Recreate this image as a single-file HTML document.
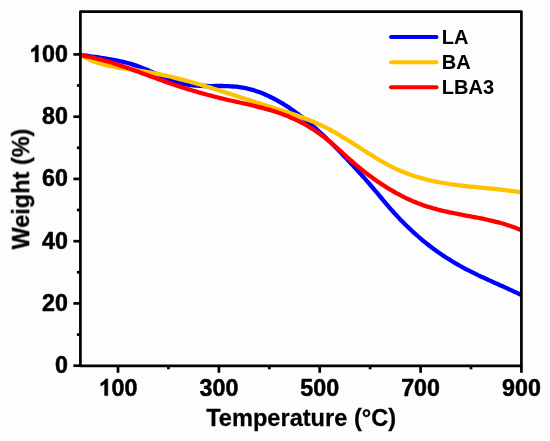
<!DOCTYPE html>
<html><head><meta charset="utf-8"><style>
html,body{margin:0;padding:0;background:#fdfdfd;}
svg{display:block;filter:blur(0.35px);}
text{font-family:"Liberation Sans",sans-serif;font-weight:bold;fill:#000;stroke:#000;stroke-linejoin:round;}
</style></head><body>
<svg width="550" height="441" viewBox="0 0 550 441">
<rect width="550" height="441" fill="#fdfdfd"/>
<g fill="none" stroke-width="4.3" stroke-linejoin="round" stroke-linecap="butt">
<path d="M80.5 54.8 C81.0 54.9 82.5 55.2 83.5 55.3 C84.5 55.5 85.5 55.6 86.5 55.7 C87.5 55.9 88.5 56.0 89.5 56.2 C90.5 56.3 91.5 56.4 92.5 56.6 C93.5 56.7 94.5 56.9 95.5 57.0 C96.5 57.1 97.5 57.3 98.5 57.4 C99.5 57.6 100.5 57.7 101.5 57.9 C102.5 58.0 103.5 58.2 104.5 58.3 C105.5 58.5 106.5 58.6 107.5 58.8 C108.5 59.0 109.5 59.1 110.5 59.3 C111.5 59.5 112.5 59.7 113.5 59.9 C114.5 60.0 115.5 60.2 116.5 60.4 C117.5 60.6 118.5 60.8 119.5 61.1 C120.5 61.3 121.5 61.5 122.5 61.7 C123.5 62.0 124.5 62.2 125.5 62.5 C126.5 62.7 127.5 63.0 128.5 63.3 C129.5 63.6 130.5 63.8 131.5 64.1 C132.5 64.4 133.5 64.8 134.5 65.1 C135.5 65.4 136.5 65.7 137.5 66.1 C138.5 66.4 139.5 66.8 140.5 67.2 C141.5 67.6 142.5 68.0 143.5 68.4 C144.5 68.8 145.5 69.2 146.5 69.6 C147.5 70.0 148.5 70.4 149.5 70.9 C150.5 71.3 151.5 71.7 152.5 72.2 C153.5 72.6 154.5 73.1 155.5 73.5 C156.5 73.9 157.5 74.4 158.5 74.8 C159.5 75.2 160.5 75.7 161.5 76.1 C162.5 76.5 163.5 77.0 164.5 77.4 C165.5 77.8 166.5 78.2 167.5 78.6 C168.5 79.0 169.5 79.4 170.5 79.8 C171.5 80.2 172.5 80.5 173.5 80.9 C174.5 81.2 175.5 81.6 176.5 81.9 C177.5 82.2 178.5 82.5 179.5 82.8 C180.5 83.1 181.5 83.3 182.5 83.6 C183.5 83.8 184.5 84.0 185.5 84.2 C186.5 84.4 187.5 84.6 188.5 84.8 C189.5 84.9 190.5 85.1 191.5 85.2 C192.5 85.3 193.5 85.4 194.5 85.5 C195.5 85.6 196.5 85.7 197.5 85.7 C198.5 85.8 199.5 85.8 200.5 85.9 C201.5 85.9 202.5 86.0 203.5 86.0 C204.5 86.0 205.5 86.0 206.5 86.0 C207.5 86.1 208.5 86.1 209.5 86.1 C210.5 86.1 211.5 86.1 212.5 86.1 C213.5 86.0 214.5 86.0 215.5 86.0 C216.5 86.0 217.5 86.0 218.5 86.0 C219.5 86.0 220.5 86.0 221.5 86.0 C222.5 86.0 223.5 86.0 224.5 86.1 C225.5 86.1 226.5 86.1 227.5 86.1 C228.5 86.2 229.5 86.2 230.5 86.3 C231.5 86.3 232.5 86.4 233.5 86.5 C234.5 86.5 235.5 86.6 236.5 86.7 C237.5 86.9 238.5 87.0 239.5 87.1 C240.5 87.3 241.5 87.4 242.5 87.6 C243.5 87.8 244.5 88.0 245.5 88.2 C246.5 88.4 247.5 88.6 248.5 88.9 C249.5 89.1 250.5 89.4 251.5 89.7 C252.5 89.9 253.5 90.2 254.5 90.5 C255.5 90.9 256.5 91.2 257.5 91.5 C258.5 91.9 259.5 92.2 260.5 92.6 C261.5 93.0 262.5 93.4 263.5 93.8 C264.5 94.2 265.5 94.7 266.5 95.1 C267.5 95.6 268.5 96.0 269.5 96.5 C270.5 97.0 271.5 97.5 272.5 98.0 C273.5 98.5 274.5 99.0 275.5 99.5 C276.5 100.1 277.5 100.6 278.5 101.2 C279.5 101.8 280.5 102.3 281.5 102.9 C282.5 103.5 283.5 104.1 284.5 104.8 C285.5 105.4 286.5 106.0 287.5 106.7 C288.5 107.3 289.5 108.0 290.5 108.7 C291.5 109.4 292.5 110.1 293.5 110.8 C294.5 111.5 295.5 112.2 296.5 112.9 C297.5 113.7 298.5 114.4 299.5 115.2 C300.5 115.9 301.5 116.7 302.5 117.5 C303.5 118.3 304.5 119.1 305.5 119.9 C306.5 120.7 307.5 121.5 308.5 122.3 C309.5 123.2 310.5 124.0 311.5 124.9 C312.5 125.7 313.5 126.6 314.5 127.5 C315.5 128.3 316.5 129.2 317.5 130.1 C318.5 131.0 319.5 131.9 320.5 132.8 C321.5 133.8 322.5 134.7 323.5 135.6 C324.5 136.6 325.5 137.5 326.5 138.4 C327.5 139.4 328.5 140.4 329.5 141.3 C330.5 142.3 331.5 143.3 332.5 144.3 C333.5 145.3 334.5 146.3 335.5 147.3 C336.5 148.3 337.5 149.3 338.5 150.3 C339.5 151.3 340.5 152.3 341.5 153.4 C342.5 154.4 343.5 155.5 344.5 156.5 C345.5 157.6 346.5 158.6 347.5 159.7 C348.5 160.7 349.5 161.8 350.5 162.9 C351.5 163.9 352.5 165.0 353.5 166.1 C354.5 167.2 355.5 168.3 356.5 169.4 C357.5 170.5 358.5 171.6 359.5 172.7 C360.5 173.8 361.5 174.9 362.5 176.0 C363.5 177.1 364.5 178.3 365.5 179.4 C366.5 180.5 367.5 181.7 368.5 182.8 C369.5 183.9 370.5 185.1 371.5 186.3 C372.5 187.4 373.5 188.6 374.5 189.8 C375.5 191.0 376.5 192.2 377.5 193.4 C378.5 194.6 379.5 195.8 380.5 197.0 C381.5 198.2 382.5 199.4 383.5 200.6 C384.5 201.8 385.5 203.0 386.5 204.1 C387.5 205.3 388.5 206.5 389.5 207.6 C390.5 208.8 391.5 209.9 392.5 211.0 C393.5 212.2 394.5 213.3 395.5 214.3 C396.5 215.4 397.5 216.5 398.5 217.6 C399.5 218.6 400.5 219.7 401.5 220.7 C402.5 221.7 403.5 222.7 404.5 223.7 C405.5 224.7 406.5 225.7 407.5 226.7 C408.5 227.6 409.5 228.6 410.5 229.5 C411.5 230.5 412.5 231.4 413.5 232.3 C414.5 233.2 415.5 234.1 416.5 235.0 C417.5 235.9 418.5 236.8 419.5 237.6 C420.5 238.5 421.5 239.3 422.5 240.2 C423.5 241.0 424.5 241.8 425.5 242.6 C426.5 243.4 427.5 244.2 428.5 245.0 C429.5 245.8 430.5 246.6 431.5 247.3 C432.5 248.1 433.5 248.8 434.5 249.6 C435.5 250.3 436.5 251.0 437.5 251.7 C438.5 252.4 439.5 253.1 440.5 253.8 C441.5 254.5 442.5 255.2 443.5 255.8 C444.5 256.5 445.5 257.2 446.5 257.8 C447.5 258.5 448.5 259.1 449.5 259.7 C450.5 260.3 451.5 260.9 452.5 261.5 C453.5 262.1 454.5 262.7 455.5 263.3 C456.5 263.9 457.5 264.5 458.5 265.0 C459.5 265.6 460.5 266.2 461.5 266.7 C462.5 267.3 463.5 267.8 464.5 268.3 C465.5 268.9 466.5 269.4 467.5 269.9 C468.5 270.4 469.5 270.9 470.5 271.4 C471.5 271.9 472.5 272.4 473.5 272.9 C474.5 273.4 475.5 273.9 476.5 274.4 C477.5 274.9 478.5 275.3 479.5 275.8 C480.5 276.3 481.5 276.8 482.5 277.2 C483.5 277.7 484.5 278.2 485.5 278.6 C486.5 279.1 487.5 279.5 488.5 280.0 C489.5 280.4 490.5 280.9 491.5 281.3 C492.5 281.8 493.5 282.2 494.5 282.7 C495.5 283.1 496.5 283.6 497.5 284.0 C498.5 284.5 499.5 284.9 500.5 285.4 C501.5 285.8 502.5 286.3 503.5 286.7 C504.5 287.2 505.5 287.6 506.5 288.1 C507.5 288.5 508.5 289.0 509.5 289.5 C510.5 289.9 511.5 290.4 512.5 290.8 C513.5 291.3 514.5 291.8 515.5 292.2 C516.5 292.7 517.5 293.2 518.5 293.7 C519.5 294.2 521.0 294.9 521.5 295.1" stroke="#0000ff"/>
<path d="M80.5 54.8 C81.0 55.1 82.5 56.0 83.5 56.6 C84.5 57.1 85.5 57.7 86.5 58.2 C87.5 58.7 88.5 59.1 89.5 59.6 C90.5 60.0 91.5 60.5 92.5 60.9 C93.5 61.3 94.5 61.7 95.5 62.0 C96.5 62.4 97.5 62.7 98.5 63.0 C99.5 63.4 100.5 63.7 101.5 64.0 C102.5 64.2 103.5 64.5 104.5 64.8 C105.5 65.0 106.5 65.3 107.5 65.5 C108.5 65.7 109.5 65.9 110.5 66.1 C111.5 66.3 112.5 66.5 113.5 66.7 C114.5 66.9 115.5 67.1 116.5 67.3 C117.5 67.4 118.5 67.6 119.5 67.8 C120.5 67.9 121.5 68.1 122.5 68.2 C123.5 68.4 124.5 68.5 125.5 68.7 C126.5 68.8 127.5 69.0 128.5 69.2 C129.5 69.3 130.5 69.5 131.5 69.6 C132.5 69.8 133.5 69.9 134.5 70.1 C135.5 70.2 136.5 70.4 137.5 70.5 C138.5 70.7 139.5 70.8 140.5 71.0 C141.5 71.1 142.5 71.3 143.5 71.5 C144.5 71.6 145.5 71.8 146.5 71.9 C147.5 72.1 148.5 72.3 149.5 72.5 C150.5 72.6 151.5 72.8 152.5 73.0 C153.5 73.2 154.5 73.4 155.5 73.5 C156.5 73.7 157.5 73.9 158.5 74.1 C159.5 74.3 160.5 74.5 161.5 74.7 C162.5 74.9 163.5 75.2 164.5 75.4 C165.5 75.6 166.5 75.8 167.5 76.0 C168.5 76.3 169.5 76.5 170.5 76.7 C171.5 77.0 172.5 77.2 173.5 77.4 C174.5 77.7 175.5 77.9 176.5 78.2 C177.5 78.4 178.5 78.7 179.5 78.9 C180.5 79.2 181.5 79.4 182.5 79.7 C183.5 80.0 184.5 80.2 185.5 80.5 C186.5 80.8 187.5 81.0 188.5 81.3 C189.5 81.6 190.5 81.9 191.5 82.1 C192.5 82.4 193.5 82.7 194.5 83.0 C195.5 83.3 196.5 83.6 197.5 83.8 C198.5 84.1 199.5 84.4 200.5 84.7 C201.5 85.0 202.5 85.3 203.5 85.6 C204.5 85.9 205.5 86.2 206.5 86.5 C207.5 86.8 208.5 87.1 209.5 87.4 C210.5 87.7 211.5 88.0 212.5 88.4 C213.5 88.7 214.5 89.0 215.5 89.3 C216.5 89.6 217.5 89.9 218.5 90.2 C219.5 90.5 220.5 90.9 221.5 91.2 C222.5 91.5 223.5 91.8 224.5 92.1 C225.5 92.5 226.5 92.8 227.5 93.1 C228.5 93.4 229.5 93.7 230.5 94.1 C231.5 94.4 232.5 94.7 233.5 95.0 C234.5 95.4 235.5 95.7 236.5 96.0 C237.5 96.3 238.5 96.7 239.5 97.0 C240.5 97.3 241.5 97.6 242.5 98.0 C243.5 98.3 244.5 98.6 245.5 98.9 C246.5 99.3 247.5 99.6 248.5 99.9 C249.5 100.2 250.5 100.6 251.5 100.9 C252.5 101.2 253.5 101.5 254.5 101.8 C255.5 102.2 256.5 102.5 257.5 102.8 C258.5 103.1 259.5 103.5 260.5 103.8 C261.5 104.1 262.5 104.4 263.5 104.7 C264.5 105.0 265.5 105.4 266.5 105.7 C267.5 106.0 268.5 106.3 269.5 106.6 C270.5 106.9 271.5 107.2 272.5 107.6 C273.5 107.9 274.5 108.2 275.5 108.5 C276.5 108.8 277.5 109.1 278.5 109.4 C279.5 109.7 280.5 110.1 281.5 110.4 C282.5 110.7 283.5 111.0 284.5 111.3 C285.5 111.7 286.5 112.0 287.5 112.3 C288.5 112.6 289.5 113.0 290.5 113.3 C291.5 113.6 292.5 114.0 293.5 114.3 C294.5 114.7 295.5 115.0 296.5 115.4 C297.5 115.7 298.5 116.1 299.5 116.4 C300.5 116.8 301.5 117.1 302.5 117.5 C303.5 117.9 304.5 118.3 305.5 118.7 C306.5 119.0 307.5 119.4 308.5 119.8 C309.5 120.2 310.5 120.6 311.5 121.0 C312.5 121.5 313.5 121.9 314.5 122.3 C315.5 122.7 316.5 123.2 317.5 123.6 C318.5 124.1 319.5 124.5 320.5 125.0 C321.5 125.5 322.5 125.9 323.5 126.4 C324.5 126.9 325.5 127.4 326.5 127.9 C327.5 128.4 328.5 128.9 329.5 129.4 C330.5 130.0 331.5 130.5 332.5 131.1 C333.5 131.6 334.5 132.2 335.5 132.7 C336.5 133.3 337.5 133.9 338.5 134.5 C339.5 135.1 340.5 135.7 341.5 136.3 C342.5 136.9 343.5 137.5 344.5 138.1 C345.5 138.7 346.5 139.3 347.5 139.9 C348.5 140.6 349.5 141.2 350.5 141.8 C351.5 142.5 352.5 143.1 353.5 143.7 C354.5 144.4 355.5 145.0 356.5 145.7 C357.5 146.3 358.5 146.9 359.5 147.6 C360.5 148.2 361.5 148.9 362.5 149.5 C363.5 150.1 364.5 150.8 365.5 151.4 C366.5 152.1 367.5 152.7 368.5 153.3 C369.5 154.0 370.5 154.6 371.5 155.2 C372.5 155.8 373.5 156.4 374.5 157.1 C375.5 157.7 376.5 158.3 377.5 158.9 C378.5 159.5 379.5 160.1 380.5 160.6 C381.5 161.2 382.5 161.8 383.5 162.4 C384.5 162.9 385.5 163.5 386.5 164.0 C387.5 164.6 388.5 165.1 389.5 165.6 C390.5 166.1 391.5 166.6 392.5 167.1 C393.5 167.6 394.5 168.1 395.5 168.6 C396.5 169.1 397.5 169.5 398.5 170.0 C399.5 170.4 400.5 170.8 401.5 171.2 C402.5 171.7 403.5 172.1 404.5 172.5 C405.5 172.9 406.5 173.3 407.5 173.6 C408.5 174.0 409.5 174.4 410.5 174.7 C411.5 175.1 412.5 175.4 413.5 175.7 C414.5 176.1 415.5 176.4 416.5 176.7 C417.5 177.0 418.5 177.3 419.5 177.6 C420.5 177.9 421.5 178.2 422.5 178.4 C423.5 178.7 424.5 179.0 425.5 179.2 C426.5 179.5 427.5 179.7 428.5 180.0 C429.5 180.2 430.5 180.5 431.5 180.7 C432.5 180.9 433.5 181.1 434.5 181.3 C435.5 181.5 436.5 181.7 437.5 181.9 C438.5 182.1 439.5 182.3 440.5 182.5 C441.5 182.7 442.5 182.9 443.5 183.0 C444.5 183.2 445.5 183.4 446.5 183.5 C447.5 183.7 448.5 183.9 449.5 184.0 C450.5 184.2 451.5 184.3 452.5 184.4 C453.5 184.6 454.5 184.7 455.5 184.8 C456.5 185.0 457.5 185.1 458.5 185.2 C459.5 185.4 460.5 185.5 461.5 185.6 C462.5 185.7 463.5 185.8 464.5 185.9 C465.5 186.1 466.5 186.2 467.5 186.3 C468.5 186.4 469.5 186.5 470.5 186.6 C471.5 186.7 472.5 186.8 473.5 186.9 C474.5 187.0 475.5 187.1 476.5 187.2 C477.5 187.3 478.5 187.4 479.5 187.5 C480.5 187.6 481.5 187.7 482.5 187.8 C483.5 187.9 484.5 187.9 485.5 188.0 C486.5 188.1 487.5 188.2 488.5 188.3 C489.5 188.4 490.5 188.5 491.5 188.6 C492.5 188.7 493.5 188.8 494.5 188.9 C495.5 189.0 496.5 189.1 497.5 189.2 C498.5 189.3 499.5 189.5 500.5 189.6 C501.5 189.7 502.5 189.8 503.5 189.9 C504.5 190.0 505.5 190.1 506.5 190.3 C507.5 190.4 508.5 190.5 509.5 190.6 C510.5 190.8 511.5 190.9 512.5 191.1 C513.5 191.2 514.5 191.3 515.5 191.5 C516.5 191.6 517.5 191.8 518.5 191.9 C519.5 192.1 521.0 192.4 521.5 192.4" stroke="#ffc200"/>
<path d="M80.5 55.3 C81.0 55.4 82.5 55.6 83.5 55.8 C84.5 56.0 85.5 56.1 86.5 56.3 C87.5 56.5 88.5 56.7 89.5 56.9 C90.5 57.1 91.5 57.3 92.5 57.6 C93.5 57.8 94.5 58.0 95.5 58.3 C96.5 58.5 97.5 58.7 98.5 59.0 C99.5 59.3 100.5 59.5 101.5 59.8 C102.5 60.0 103.5 60.3 104.5 60.6 C105.5 60.9 106.5 61.2 107.5 61.5 C108.5 61.7 109.5 62.0 110.5 62.3 C111.5 62.6 112.5 62.9 113.5 63.3 C114.5 63.6 115.5 63.9 116.5 64.2 C117.5 64.5 118.5 64.9 119.5 65.2 C120.5 65.5 121.5 65.9 122.5 66.2 C123.5 66.5 124.5 66.9 125.5 67.2 C126.5 67.6 127.5 67.9 128.5 68.3 C129.5 68.6 130.5 69.0 131.5 69.3 C132.5 69.7 133.5 70.0 134.5 70.4 C135.5 70.7 136.5 71.1 137.5 71.5 C138.5 71.8 139.5 72.2 140.5 72.6 C141.5 72.9 142.5 73.3 143.5 73.7 C144.5 74.0 145.5 74.4 146.5 74.8 C147.5 75.1 148.5 75.5 149.5 75.9 C150.5 76.3 151.5 76.6 152.5 77.0 C153.5 77.4 154.5 77.7 155.5 78.1 C156.5 78.5 157.5 78.8 158.5 79.2 C159.5 79.6 160.5 79.9 161.5 80.3 C162.5 80.6 163.5 81.0 164.5 81.4 C165.5 81.7 166.5 82.1 167.5 82.4 C168.5 82.8 169.5 83.1 170.5 83.5 C171.5 83.8 172.5 84.2 173.5 84.5 C174.5 84.9 175.5 85.2 176.5 85.5 C177.5 85.9 178.5 86.2 179.5 86.5 C180.5 86.8 181.5 87.2 182.5 87.5 C183.5 87.8 184.5 88.1 185.5 88.4 C186.5 88.7 187.5 89.0 188.5 89.4 C189.5 89.7 190.5 90.0 191.5 90.3 C192.5 90.6 193.5 90.9 194.5 91.1 C195.5 91.4 196.5 91.7 197.5 92.0 C198.5 92.3 199.5 92.6 200.5 92.9 C201.5 93.1 202.5 93.4 203.5 93.7 C204.5 94.0 205.5 94.2 206.5 94.5 C207.5 94.8 208.5 95.1 209.5 95.3 C210.5 95.6 211.5 95.8 212.5 96.1 C213.5 96.4 214.5 96.6 215.5 96.9 C216.5 97.1 217.5 97.4 218.5 97.6 C219.5 97.9 220.5 98.1 221.5 98.4 C222.5 98.6 223.5 98.8 224.5 99.1 C225.5 99.3 226.5 99.5 227.5 99.8 C228.5 100.0 229.5 100.2 230.5 100.5 C231.5 100.7 232.5 100.9 233.5 101.2 C234.5 101.4 235.5 101.6 236.5 101.8 C237.5 102.1 238.5 102.3 239.5 102.5 C240.5 102.7 241.5 102.9 242.5 103.2 C243.5 103.4 244.5 103.6 245.5 103.8 C246.5 104.1 247.5 104.3 248.5 104.5 C249.5 104.8 250.5 105.0 251.5 105.2 C252.5 105.5 253.5 105.7 254.5 105.9 C255.5 106.2 256.5 106.4 257.5 106.7 C258.5 106.9 259.5 107.2 260.5 107.4 C261.5 107.7 262.5 108.0 263.5 108.2 C264.5 108.5 265.5 108.8 266.5 109.1 C267.5 109.3 268.5 109.6 269.5 109.9 C270.5 110.2 271.5 110.5 272.5 110.8 C273.5 111.1 274.5 111.5 275.5 111.8 C276.5 112.1 277.5 112.4 278.5 112.8 C279.5 113.1 280.5 113.5 281.5 113.8 C282.5 114.2 283.5 114.6 284.5 114.9 C285.5 115.3 286.5 115.7 287.5 116.1 C288.5 116.5 289.5 116.9 290.5 117.4 C291.5 117.8 292.5 118.2 293.5 118.7 C294.5 119.1 295.5 119.6 296.5 120.1 C297.5 120.5 298.5 121.0 299.5 121.5 C300.5 122.0 301.5 122.6 302.5 123.1 C303.5 123.6 304.5 124.2 305.5 124.7 C306.5 125.3 307.5 125.9 308.5 126.5 C309.5 127.1 310.5 127.7 311.5 128.3 C312.5 128.9 313.5 129.6 314.5 130.2 C315.5 130.9 316.5 131.5 317.5 132.2 C318.5 132.9 319.5 133.6 320.5 134.4 C321.5 135.1 322.5 135.8 323.5 136.6 C324.5 137.4 325.5 138.1 326.5 138.9 C327.5 139.7 328.5 140.5 329.5 141.4 C330.5 142.2 331.5 143.1 332.5 143.9 C333.5 144.8 334.5 145.7 335.5 146.6 C336.5 147.5 337.5 148.4 338.5 149.3 C339.5 150.2 340.5 151.1 341.5 152.0 C342.5 153.0 343.5 153.9 344.5 154.8 C345.5 155.7 346.5 156.6 347.5 157.5 C348.5 158.4 349.5 159.3 350.5 160.2 C351.5 161.1 352.5 161.9 353.5 162.8 C354.5 163.6 355.5 164.5 356.5 165.3 C357.5 166.2 358.5 167.0 359.5 167.8 C360.5 168.6 361.5 169.4 362.5 170.2 C363.5 171.0 364.5 171.8 365.5 172.6 C366.5 173.4 367.5 174.1 368.5 174.9 C369.5 175.6 370.5 176.4 371.5 177.1 C372.5 177.8 373.5 178.6 374.5 179.3 C375.5 180.0 376.5 180.7 377.5 181.4 C378.5 182.1 379.5 182.7 380.5 183.4 C381.5 184.1 382.5 184.7 383.5 185.4 C384.5 186.0 385.5 186.7 386.5 187.3 C387.5 187.9 388.5 188.5 389.5 189.1 C390.5 189.7 391.5 190.3 392.5 190.9 C393.5 191.5 394.5 192.0 395.5 192.6 C396.5 193.2 397.5 193.7 398.5 194.2 C399.5 194.8 400.5 195.3 401.5 195.8 C402.5 196.3 403.5 196.8 404.5 197.3 C405.5 197.8 406.5 198.3 407.5 198.8 C408.5 199.2 409.5 199.7 410.5 200.1 C411.5 200.6 412.5 201.0 413.5 201.4 C414.5 201.8 415.5 202.3 416.5 202.7 C417.5 203.1 418.5 203.4 419.5 203.8 C420.5 204.2 421.5 204.6 422.5 204.9 C423.5 205.3 424.5 205.6 425.5 205.9 C426.5 206.3 427.5 206.6 428.5 206.9 C429.5 207.2 430.5 207.5 431.5 207.8 C432.5 208.1 433.5 208.4 434.5 208.7 C435.5 208.9 436.5 209.2 437.5 209.5 C438.5 209.7 439.5 210.0 440.5 210.2 C441.5 210.5 442.5 210.7 443.5 211.0 C444.5 211.2 445.5 211.4 446.5 211.6 C447.5 211.9 448.5 212.1 449.5 212.3 C450.5 212.5 451.5 212.7 452.5 212.9 C453.5 213.1 454.5 213.3 455.5 213.5 C456.5 213.7 457.5 213.9 458.5 214.1 C459.5 214.3 460.5 214.5 461.5 214.7 C462.5 214.9 463.5 215.1 464.5 215.3 C465.5 215.5 466.5 215.6 467.5 215.8 C468.5 216.0 469.5 216.2 470.5 216.4 C471.5 216.6 472.5 216.8 473.5 217.0 C474.5 217.1 475.5 217.3 476.5 217.5 C477.5 217.7 478.5 217.9 479.5 218.1 C480.5 218.3 481.5 218.5 482.5 218.7 C483.5 218.9 484.5 219.1 485.5 219.4 C486.5 219.6 487.5 219.8 488.5 220.0 C489.5 220.2 490.5 220.5 491.5 220.7 C492.5 220.9 493.5 221.2 494.5 221.4 C495.5 221.7 496.5 221.9 497.5 222.2 C498.5 222.4 499.5 222.7 500.5 223.0 C501.5 223.2 502.5 223.5 503.5 223.8 C504.5 224.1 505.5 224.4 506.5 224.7 C507.5 225.0 508.5 225.4 509.5 225.7 C510.5 226.0 511.5 226.4 512.5 226.7 C513.5 227.1 514.5 227.4 515.5 227.8 C516.5 228.2 517.5 228.6 518.5 229.0 C519.5 229.4 521.0 230.0 521.5 230.2" stroke="#ff0000"/>
</g>
<g stroke="#000" stroke-width="2.7" fill="none" stroke-linecap="butt">
<rect x="80.4" y="11.7" width="441.0" height="354.1" stroke-linejoin="round"/>
<line x1="118.0" y1="365.8" x2="118.0" y2="372.8"/><line x1="218.9" y1="365.8" x2="218.9" y2="372.8"/><line x1="319.7" y1="365.8" x2="319.7" y2="372.8"/><line x1="420.6" y1="365.8" x2="420.6" y2="372.8"/><line x1="521.4" y1="365.8" x2="521.4" y2="372.8"/><line x1="168.4" y1="365.8" x2="168.4" y2="369.3"/><line x1="269.3" y1="365.8" x2="269.3" y2="369.3"/><line x1="370.1" y1="365.8" x2="370.1" y2="369.3"/><line x1="471.0" y1="365.8" x2="471.0" y2="369.3"/><line x1="73.4" y1="365.7" x2="80.4" y2="365.7"/><line x1="73.4" y1="303.4" x2="80.4" y2="303.4"/><line x1="73.4" y1="241.2" x2="80.4" y2="241.2"/><line x1="73.4" y1="178.9" x2="80.4" y2="178.9"/><line x1="73.4" y1="116.7" x2="80.4" y2="116.7"/><line x1="73.4" y1="54.4" x2="80.4" y2="54.4"/><line x1="76.9" y1="334.6" x2="80.4" y2="334.6"/><line x1="76.9" y1="272.3" x2="80.4" y2="272.3"/><line x1="76.9" y1="210.0" x2="80.4" y2="210.0"/><line x1="76.9" y1="147.8" x2="80.4" y2="147.8"/><line x1="76.9" y1="85.5" x2="80.4" y2="85.5"/>
</g>
<g font-size="23.3" stroke-width="0.5" style="filter:grayscale(1)">
<text transform="translate(68.0 373.2) scale(1 1.040)" text-anchor="end">0</text><text transform="translate(68.0 310.9) scale(1 1.040)" text-anchor="end">20</text><text transform="translate(68.0 248.7) scale(1 1.040)" text-anchor="end">40</text><text transform="translate(68.0 186.4) scale(1 1.040)" text-anchor="end">60</text><text transform="translate(68.0 124.2) scale(1 1.040)" text-anchor="end">80</text><text transform="translate(68.0 61.9) scale(1 1.040)" text-anchor="end">00</text><path transform="translate(29.12 61.90) scale(0.011377 -0.011377)" stroke="#000" stroke-width="44" stroke-linejoin="round" d="M530 0L530 1045C440 960 320 890 190 850L190 1095C275 1125 365 1182 445 1255C520 1325 572 1395 602 1466L810 1466L810 0Z"/><text transform="translate(111.5 395.6) scale(1 1.040)">00</text><path transform="translate(98.59 395.60) scale(0.011377 -0.011377)" stroke="#000" stroke-width="44" stroke-linejoin="round" d="M530 0L530 1045C440 960 320 890 190 850L190 1095C275 1125 365 1182 445 1255C520 1325 572 1395 602 1466L810 1466L810 0Z"/><text transform="translate(218.9 395.6) scale(1 1.040)" text-anchor="middle">300</text><text transform="translate(319.7 395.6) scale(1 1.040)" text-anchor="middle">500</text><text transform="translate(420.6 395.6) scale(1 1.040)" text-anchor="middle">700</text><text transform="translate(521.4 395.6) scale(1 1.040)" text-anchor="middle">900</text>
</g>
<g font-size="23.5" stroke-width="0.25" style="filter:grayscale(1)">
<text transform="translate(206.2 426.3) scale(1 1.040)" font-size="23.6">Temperature (°C)</text>
<text transform="translate(29.0 249.5) rotate(-90) scale(1 1.040)">Weight (%)</text>
</g>
<g fill="none" stroke-width="4" stroke-linecap="round">
<line x1="391" y1="37" x2="436.5" y2="37" stroke="#0000ff"/>
<line x1="391" y1="62.2" x2="436.5" y2="62.2" stroke="#ffc200"/>
<line x1="391" y1="87.3" x2="436.5" y2="87.3" stroke="#ff0000"/>
</g>
<g font-size="20" stroke-width="0.05" style="filter:grayscale(1)">
<text transform="translate(441.8 43.6) scale(1 1.040)">LA</text>
<text transform="translate(441.8 68.7) scale(1 1.040)">BA</text>
<text transform="translate(441.8 93.8) scale(1 1.040)">LBA3</text>
</g>
</svg>
</body></html>
